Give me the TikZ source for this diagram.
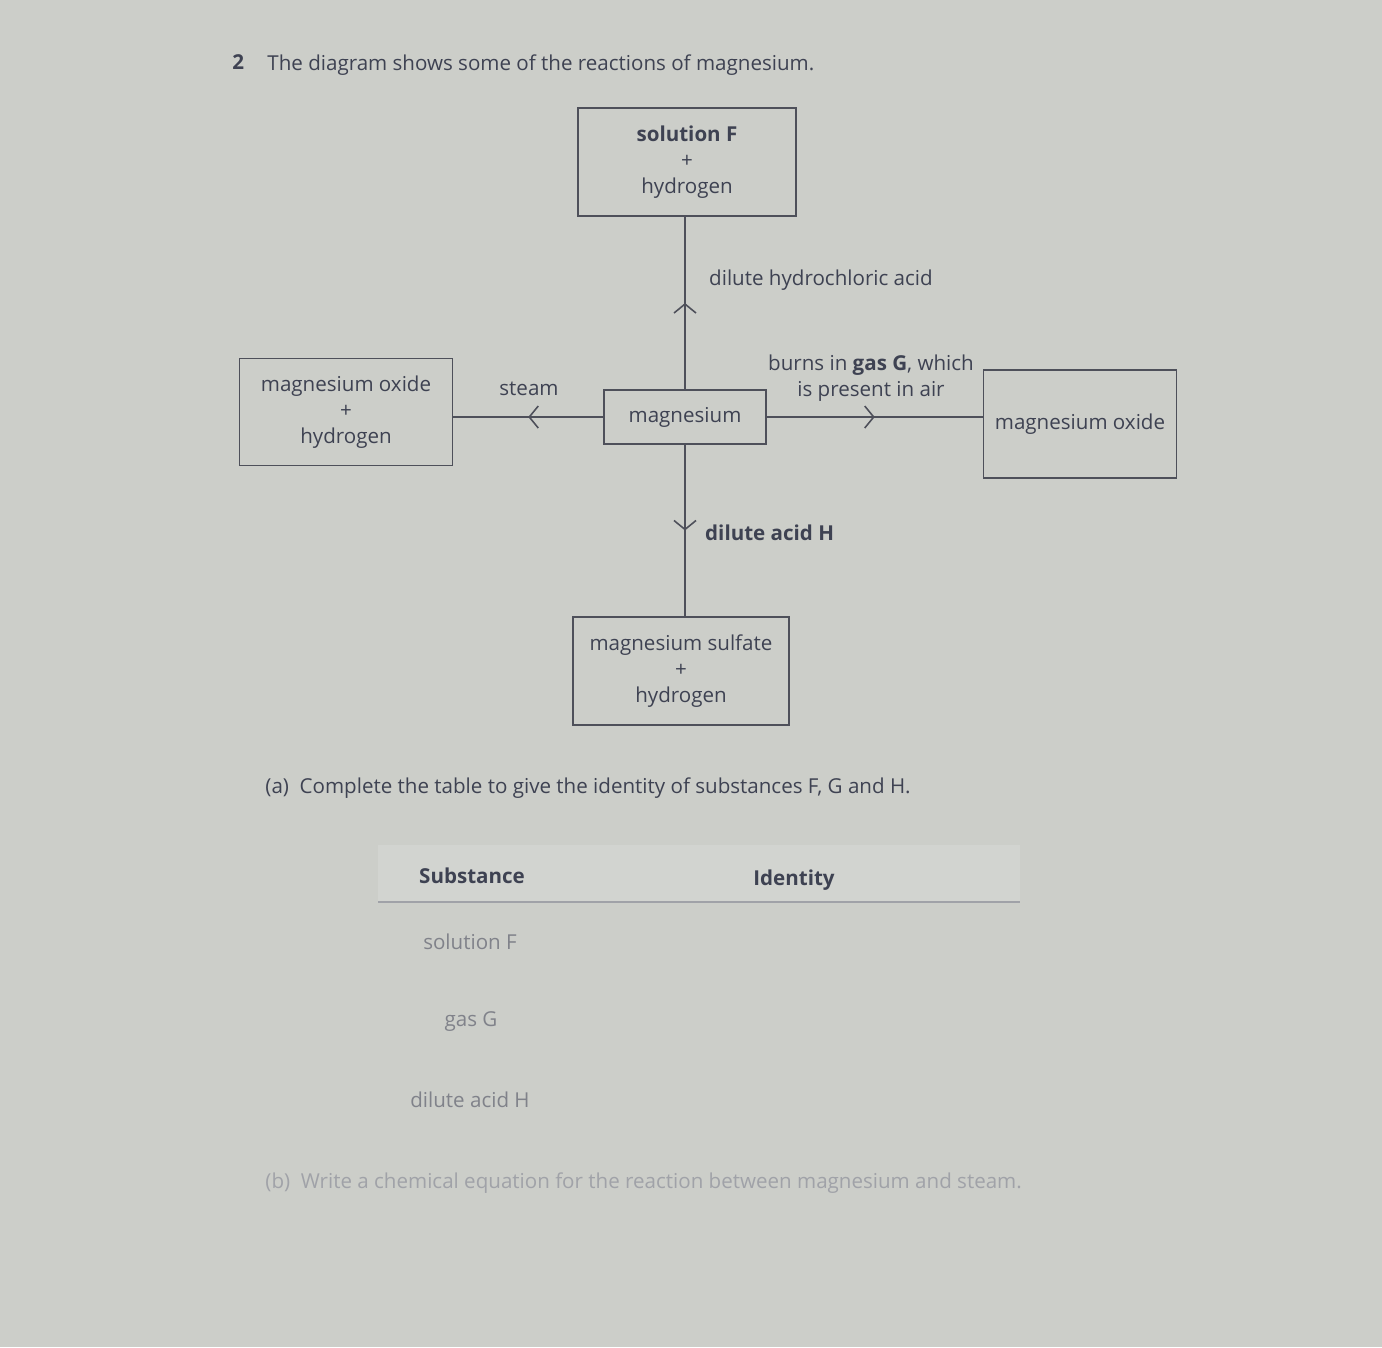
\documentclass[tikz,border=0pt]{standalone}
\usepackage{fontspec}
\setmainfont{Open Sans}
\usetikzlibrary{arrows.meta,positioning,decorations.markings}
\definecolor{screenBg}{RGB}{204,206,201}
\definecolor{inkDark}{RGB}{62,66,82}
\definecolor{inkLine}{RGB}{78,80,90}
\definecolor{inkFaint}{RGB}{128,130,138}
\definecolor{inkPale}{RGB}{160,162,168}
\definecolor{headBand}{RGB}{210,212,208}
\tikzset{
    every node/.append style={align=center,text=inkDark,font=\fontsize{5.85}{7.4}\selectfont},
    box/.style={rectangle,draw=inkLine,line width=0.5pt,inner sep=2pt},
    link/.style={draw=inkLine,line width=0.45pt,postaction={decorate},
        decoration={markings,mark=at position #1 with {\arrow{Straight Barb[length=0.9mm,width=2.2mm,line width=0.45pt]}}}},
    link/.default=0.5,
    lbl/.style={inner sep=1pt},
    bold/.style={font=\fontsize{5.85}{7.4}\selectfont\bfseries},
    tabtxt/.style={text=inkFaint},
    paletxt/.style={text=inkPale}
}
\begin{document}
\begin{tikzpicture}
    \fill[screenBg] (0,0) rectangle (13.82,-13.47);
    \useasboundingbox (0,0) rectangle (13.82,-13.47);

    % question
    \node[bold,anchor=west] (qnum) at (2.20,-0.62) {2};
    \node[anchor=west] (intro) at (2.55,-0.65) {The diagram shows some of the reactions of magnesium.};

    % products and magnesium
    \node[box,minimum width=1.62cm,minimum height=0.54cm] (mg)     at (6.85,-4.17) {magnesium};
    \node[box,minimum width=2.18cm,minimum height=1.08cm] (solF)   at (6.87,-1.62) {\textbf{solution F}\\+\\hydrogen};
    \node[box,minimum width=2.13cm,minimum height=1.07cm] (oxH)    at (3.46,-4.12) {magnesium oxide\\+\\hydrogen};
    \node[box,minimum width=1.93cm,minimum height=1.08cm] (oxide)  at (10.80,-4.24) {magnesium oxide};
    \node[box,minimum width=2.16cm,minimum height=1.08cm] (sulf)   at (6.81,-6.71) {magnesium sulfate\\+\\hydrogen};

    \draw[link] (mg.north) -- (mg.north |- solF.south);
    \draw[link] (mg.west) -- (oxH.east |- mg.west);
    \draw[link] (mg.east) -- (oxide.west |- mg.east);
    \draw[link] (mg.south) -- (mg.south |- sulf.north);

    \node[lbl,anchor=west] (hcl)   at (7.05,-2.80) {dilute hydrochloric acid};
    \node[lbl] (steam) at (5.29,-3.89) {steam};
    \node[lbl] (burns) at (8.71,-3.78) {burns in \textbf{gas G}, which\\is present in air};
    \node[lbl,bold,anchor=west] (acidH) at (7.01,-5.33) {dilute acid H};

    % part (a) and table
    \node[anchor=west] (parta) at (2.53,-7.88) {(a)\ \ Complete the table to give the identity of substances F, G and H.};
    \fill[headBand] (3.78,-8.45) rectangle (10.20,-9.02);
    \draw[inkPale,line width=0.3pt] (3.78,-9.02) -- (10.20,-9.02);
    \node[bold] (hsub) at (4.72,-8.76) {Substance};
    \node[bold] (hid)  at (7.94,-8.80) {Identity};
    \node[tabtxt] (rowF) at (4.70,-9.42) {solution F};
    \node[tabtxt] (rowG) at (4.71,-10.22) {gas G};
    \node[tabtxt] (rowH) at (4.70,-11.00) {dilute acid H};

    % part (b)
    \node[paletxt,anchor=west] (partb) at (2.53,-11.83) {(b)\ \ Write a chemical equation for the reaction between magnesium and steam.};
\end{tikzpicture}
\end{document}
